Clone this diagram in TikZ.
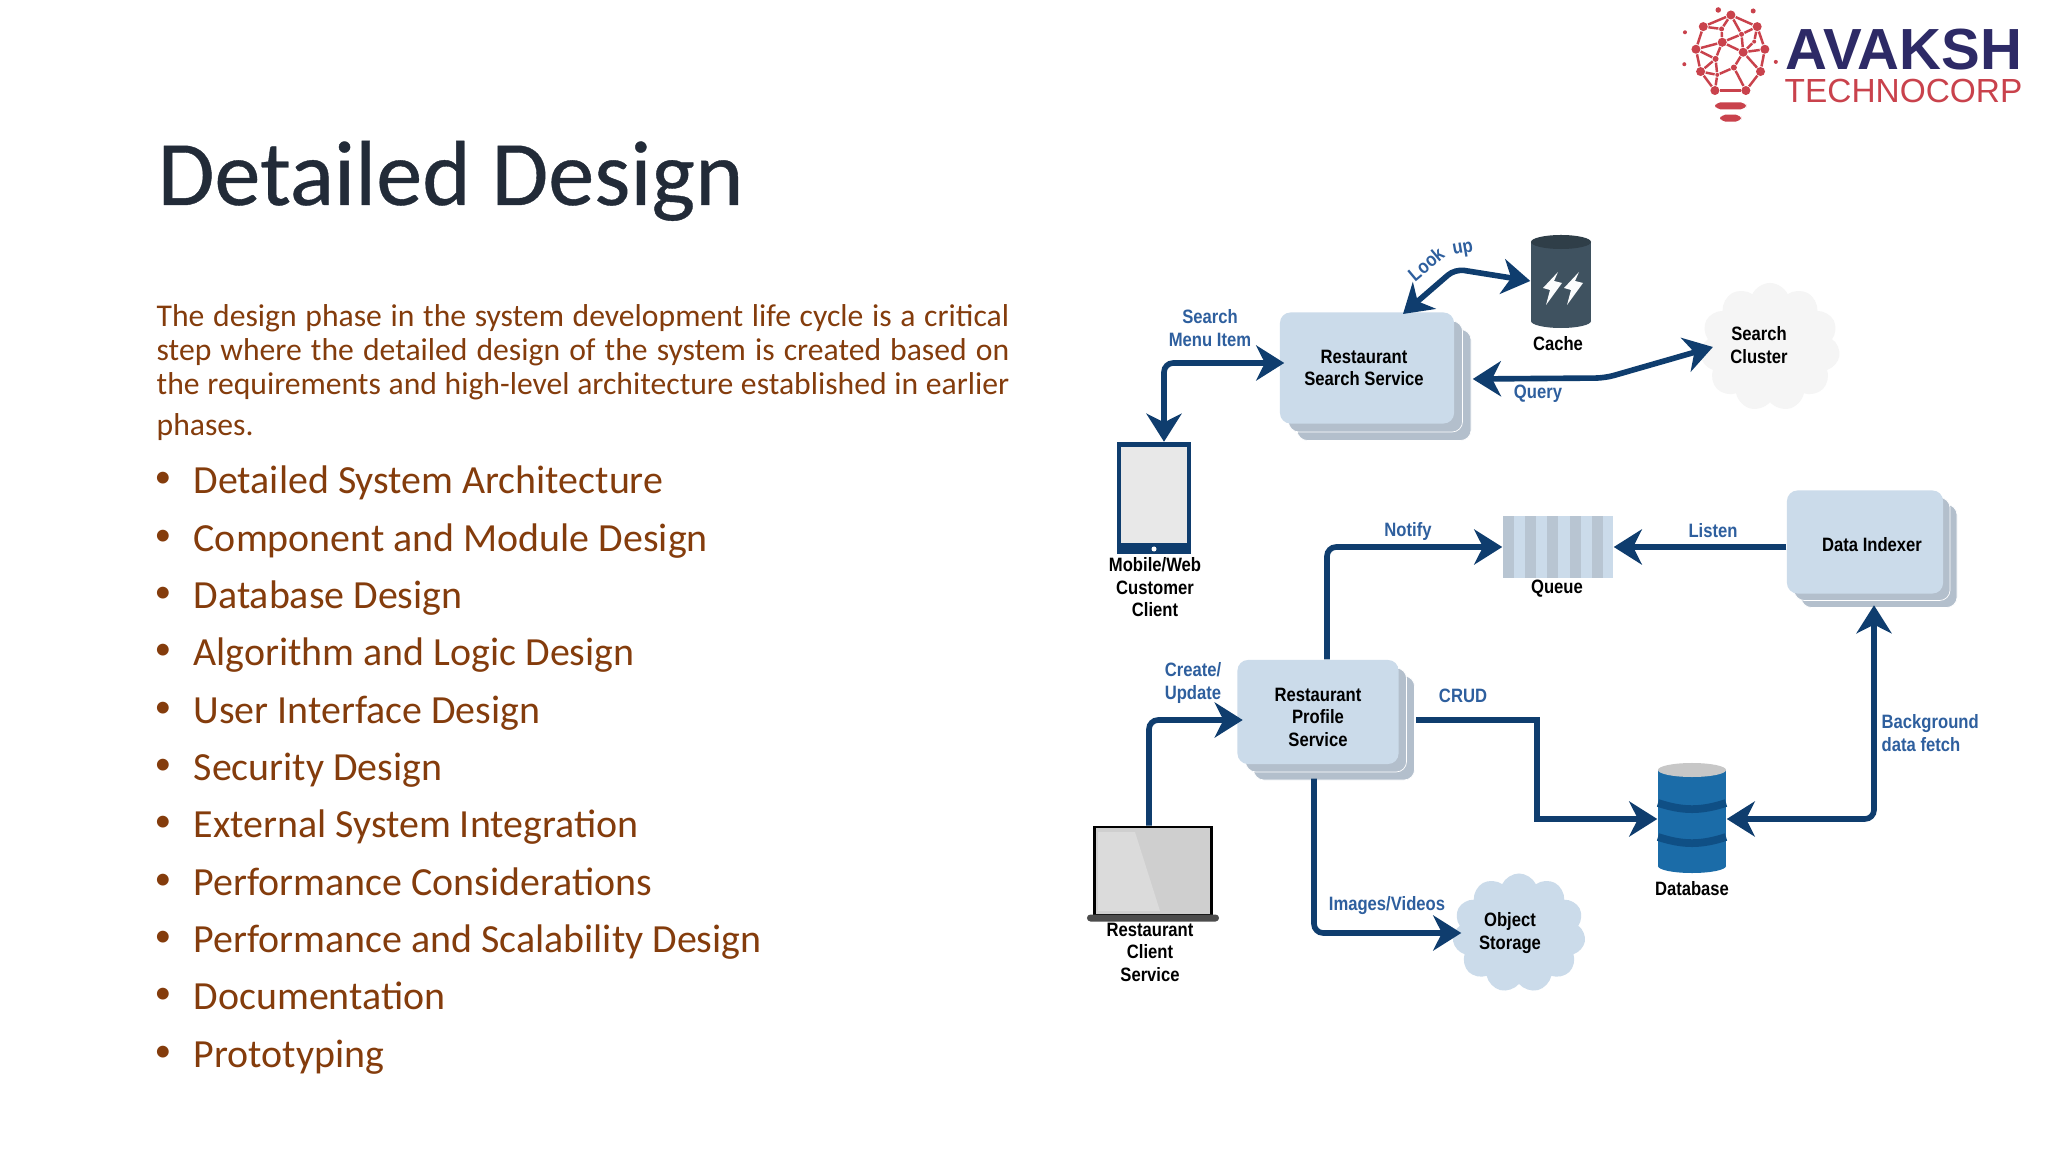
\documentclass[tikz,border=0pt]{standalone}
\usepackage{fontspec}
\setmainfont{Carlito}
\newfontfamily\titlefont[FakeBold=.4]{Carlito}
\newfontfamily\diagfont[FakeStretch=0.86]{Liberation Sans}
\newfontfamily\logofont{Liberation Sans}
\usepackage{tikz}
\usetikzlibrary{arrows.meta,shapes.symbols,shadows}
\definecolor{navy}{HTML}{0F3D6E}
\definecolor{flowblue}{HTML}{2E5F9E}
\definecolor{boxblue}{HTML}{CBDBEA}
\definecolor{boxgrey}{HTML}{B3BFCC}
\definecolor{brown}{HTML}{843C0C}
\definecolor{slate}{HTML}{222B38}
\definecolor{cachebody}{HTML}{3F5260}
\definecolor{cacheend}{HTML}{2F3E48}
\definecolor{dbbody}{HTML}{1B6CA8}
\definecolor{dbband}{HTML}{0F4F85}
\definecolor{logored}{HTML}{C9424C}
\definecolor{logonavy}{HTML}{2D2A66}
\tikzset{
    >={Stealth[length=8pt,width=10pt,inset=2.5pt]},
    flowline/.style={draw=navy,line width=1.6pt,rounded corners=2.6pt},
    flow/.style={flowline,<->},
    oneway/.style={flowline,->},
    name label/.style={inner sep=0pt,align=center,font=\diagfont\bfseries\fontsize{5.5}{6.4}\selectfont},
    flow label/.style={name label,text=flowblue},
    svcbox/.style={fill=boxblue,rounded corners=3pt,inner sep=0pt,
        double copy shadow={shadow xshift=#1,shadow yshift=-#1,fill=boxgrey,draw=white,line width=.2pt}},
    puff/.style={cloud,cloud puffs=11,cloud puff arc=130,aspect=1,inner sep=0pt},
    bullet item/.style={anchor=base west,inner sep=0pt,text=brown,font=\fontsize{11.35}{13}\selectfont},
    dot/.style={circle,fill=logored,inner sep=0pt},
}
\begin{document}
\begin{tikzpicture}[x=0.01cm,y=-0.01cm]
    \useasboundingbox[fill=white] (0,0) rectangle (2048,1152);

    \node[anchor=base west,inner sep=0pt,text=slate,font=\titlefont\fontsize{26.25}{30}\selectfont] (title) at (157,205) {Detailed Design};
    \node[anchor=north west,inner sep=0pt,text width=8.52cm,align=justify,text=brown,font=\fontsize{9}{9.67}\selectfont] (intro) at (156,304)
        {The design phase in the system development life cycle is a critical\linebreak
        step where the detailed design of the system is created based on\linebreak
        the requirements and high-level architecture established in earlier\linebreak};
    \node[anchor=base west,inner sep=0pt,text=brown,font=\fontsize{9}{9.67}\selectfont] (phases) at (156,436) {phases.};

    \foreach \i/\txt in {0/Detailed System Architecture,1/Component and Module Design,2/Database Design,
        3/Algorithm and Logic Design,4/User Interface Design,5/Security Design,6/External System Integration,
        7/Performance Considerations,8/Performance and Scalability Design,9/Documentation,10/Prototyping}{
        \node[bullet item] (item\i) at (193,494+57.3*\i) {\txt};
        \node[anchor=base,inner sep=0pt,text=brown,font=\fontsize{9.5}{11}\selectfont] (mark\i) at (163,488+57.3*\i) {•};
    }

    \node[svcbox=.085cm,minimum width=1.74cm,minimum height=1.11cm] (searchsvc) at (1367,368) {};
    \node[name label] (searchtext) at (1364,368) {Restaurant\\Search Service};
    \node[svcbox=.08cm,minimum width=1.61cm,minimum height=1.04cm] (profilesvc) at (1318,712) {};
    \node[name label] (profiletext) at (1318,717) {Restaurant\\Profile\\Service};
    \node[svcbox=.07cm,minimum width=1.56cm,minimum height=1.03cm] (indexer) at (1865,542) {};
    \node[name label] (indexertext) at (1872,545) {Data Indexer};

    \node[inner sep=0pt,minimum width=.60cm,minimum height=.94cm] (cache) at (1561,281) {};
    \fill[cachebody] (1531,242) rectangle (1591,321);
    \fill[cachebody] (1561,321) ellipse [x radius=.30cm,y radius=.07cm];
    \fill[cacheend] (1561,242) ellipse [x radius=.30cm,y radius=.07cm];
    \fill[white!92!boxblue] (1558,272) -- (1543,288) -- (1550,290) -- (1546,305) -- (1562,283) -- (1554,281) -- cycle;
    \fill[white!92!boxblue] (1579,272) -- (1564,288) -- (1571,290) -- (1567,305) -- (1583,283) -- (1575,281) -- cycle;
    \node[name label] (cachetext) at (1558,344) {Cache};

    \node[puff,fill=black!4,minimum width=1.40cm,minimum height=1.28cm] (cluster) at (1770,347) {};
    \node[name label] (clustertext) at (1759,345) {Search\\Cluster};
    \node[puff,fill=boxblue,minimum width=1.33cm,minimum height=1.19cm] (objstore) at (1519,933) {};
    \node[name label] (objtext) at (1510,933) {Object\\Storage};

    \node[fill=navy,inner sep=0pt,minimum width=.74cm,minimum height=1.11cm] (client) at (1154,498) {};
    \node[fill=black!9,inner sep=0pt,minimum width=.66cm,minimum height=.96cm] (clientscreen) at (1154,495) {};
    \node[circle,fill=white,inner sep=0pt,minimum size=.05cm] (clientbtn) at (1154,549) {};
    \node[name label,anchor=north] (clienttext) at (1155,557) {Mobile/Web\\Customer\\Client};

    \node[fill=black!19,draw=black,line width=.8pt,inner sep=0pt,minimum width=1.17cm,minimum height=.88cm] (laptop) at (1153,871) {};
    \fill[black!14] (1098,832) -- (1135,832) -- (1160,911) -- (1098,911) -- cycle;
    \node[fill=black!70,rounded corners=1pt,inner sep=0pt,minimum width=1.32cm,minimum height=.07cm] (laptopbase) at (1153,918) {};
    \node[name label,anchor=north] (laptoptext) at (1150,922) {Restaurant\\Client\\Service};

    \node[fill=boxblue,inner sep=0pt,minimum width=1.10cm,minimum height=.62cm] (queue) at (1558,547) {};
    \foreach \i in {0,1,2,3,4}{
        \fill[boxgrey!80!boxblue] (1503+22.2*\i,516) rectangle (1514+22.2*\i,578);
    }
    \node[name label] (queuetext) at (1557,589) {Queue};

    \node[inner sep=0pt,minimum width=.68cm,minimum height=1.11cm] (database) at (1692,819) {};
    \fill[dbbody] (1658,770) rectangle (1726,866);
    \fill[dbbody] (1692,866) ellipse [x radius=.34cm,y radius=.07cm];
    \fill[black!22] (1692,770) ellipse [x radius=.34cm,y radius=.07cm];
    \draw[dbband,line width=2.2pt] (1658,803) to[bend right=18] (1726,803);
    \draw[dbband,line width=2.2pt] (1658,837) to[bend right=18] (1726,837);
    \node[name label] (databasetext) at (1692,889) {Database};

    \coordinate (lookbend) at (1455,269);
    \coordinate (querybend) at (1605,378);
    \draw[flow] ([xshift=.36cm,yshift=.54cm]searchsvc.center) -- (lookbend) -- (cache.west);
    \draw[flow] ([xshift=.1cm]client.north) |- ([xshift=.05cm,yshift=.05cm]searchsvc.west);
    \draw[flow] ([xshift=.18cm,yshift=-.11cm]searchsvc.east) -- (querybend) -- ([xshift=.12cm]cluster.west);
    \draw[oneway] ([xshift=.09cm]profilesvc.north) |- (queue.west);
    \draw[oneway] (queue.east -| indexer.west) -- (queue.east);
    \draw[oneway] ([xshift=-.04cm]laptop.north) |- ([xshift=.06cm,yshift=-.08cm]profilesvc.west);
    \draw[oneway,rounded corners=0pt] ([xshift=.17cm,yshift=-.08cm]profilesvc.east) -| (1537,819) -- (database.west);
    \draw[flow] ([xshift=.09cm,yshift=-.11cm]indexer.south) |- (database.east);
    \draw[oneway] ([xshift=-.04cm,yshift=-.14cm]profilesvc.south) |- ([xshift=.08cm]objstore.west);

    \node[flow label] (searchmenu) at (1210,328) {Search\\Menu Item};
    \node[flow label,rotate=40] (looklabel) at (1426,264) {Look};
    \node[flow label,rotate=10] (uplabel) at (1463,250) {up};
    \node[flow label] (querylabel) at (1538,394) {Query};
    \node[flow label] (notifylabel) at (1408,532) {Notify};
    \node[flow label] (listenlabel) at (1713,531) {Listen};
    \node[flow label,align=left] (createlabel) at (1193,683) {Create/\\Update};
    \node[flow label] (crudlabel) at (1463,696) {CRUD};
    \node[flow label] (imageslabel) at (1387,906) {Images/Videos};
    \node[flow label,align=left,anchor=west] (fetchlabel) at (1881,733) {Background\\data fetch};

    \node[anchor=base west,inner sep=0pt,text=logonavy,font=\logofont\bfseries\fontsize{16.5}{18}\selectfont] (avaksh) at (1785,70) {AVAKSH};
    \node[anchor=base west,inner sep=0pt,text=logored,font=\logofont\fontsize{9.5}{11}\selectfont] (technocorp) at (1784,103) {TECHNOCORP};
    \begin{scope}[shift={(1660,0)},x=0.00333cm,y=-0.00333cm]
        \foreach \n/\px/\py/\s in {a/213/45/.09,b/130/80/.09,c/292/80/.09,d/108/148/.09,e/315/148/.09,f/122/215/.09,g/302/215/.09,
            h/165/272/.09,i/258/272/.09,j/187/127/.09,k/250/157/.09,l/167/177/.06,m/222/203/.06,n/172/225/.04,o/185/87/.05,
            p/245/103/.05,q/283/125/.04,r/175/30/.055,s/280/33/.05,t/75/97/.04,u/73/193/.04,v/348/186/.04}{
            \node[dot,minimum size=\s cm] (\n) at (\px,\py) {};
        }
        \foreach \p/\q in {a/b,a/c,b/d,c/e,d/f,e/g,f/h,g/i,h/i,a/o,o/b,o/j,a/p,p/c,p/k,p/j,j/k,k/e,j/d,j/l,l/d,l/f,l/n,n/f,n/h,n/m,m/k,m/i,k/g,c/q,q/k}{
            \draw[logored,line width=.7pt] (\p) -- (\q);
        }
        \node[fill=logored,rounded corners=1.5pt,inner sep=0pt,minimum width=.31cm,minimum height=.07cm] (bulbtop) at (212,318) {};
        \node[fill=logored,rounded corners=1.5pt,inner sep=0pt,minimum width=.21cm,minimum height=.07cm] (bulbbot) at (212,355) {};
    \end{scope}
\end{tikzpicture}
\end{document}
